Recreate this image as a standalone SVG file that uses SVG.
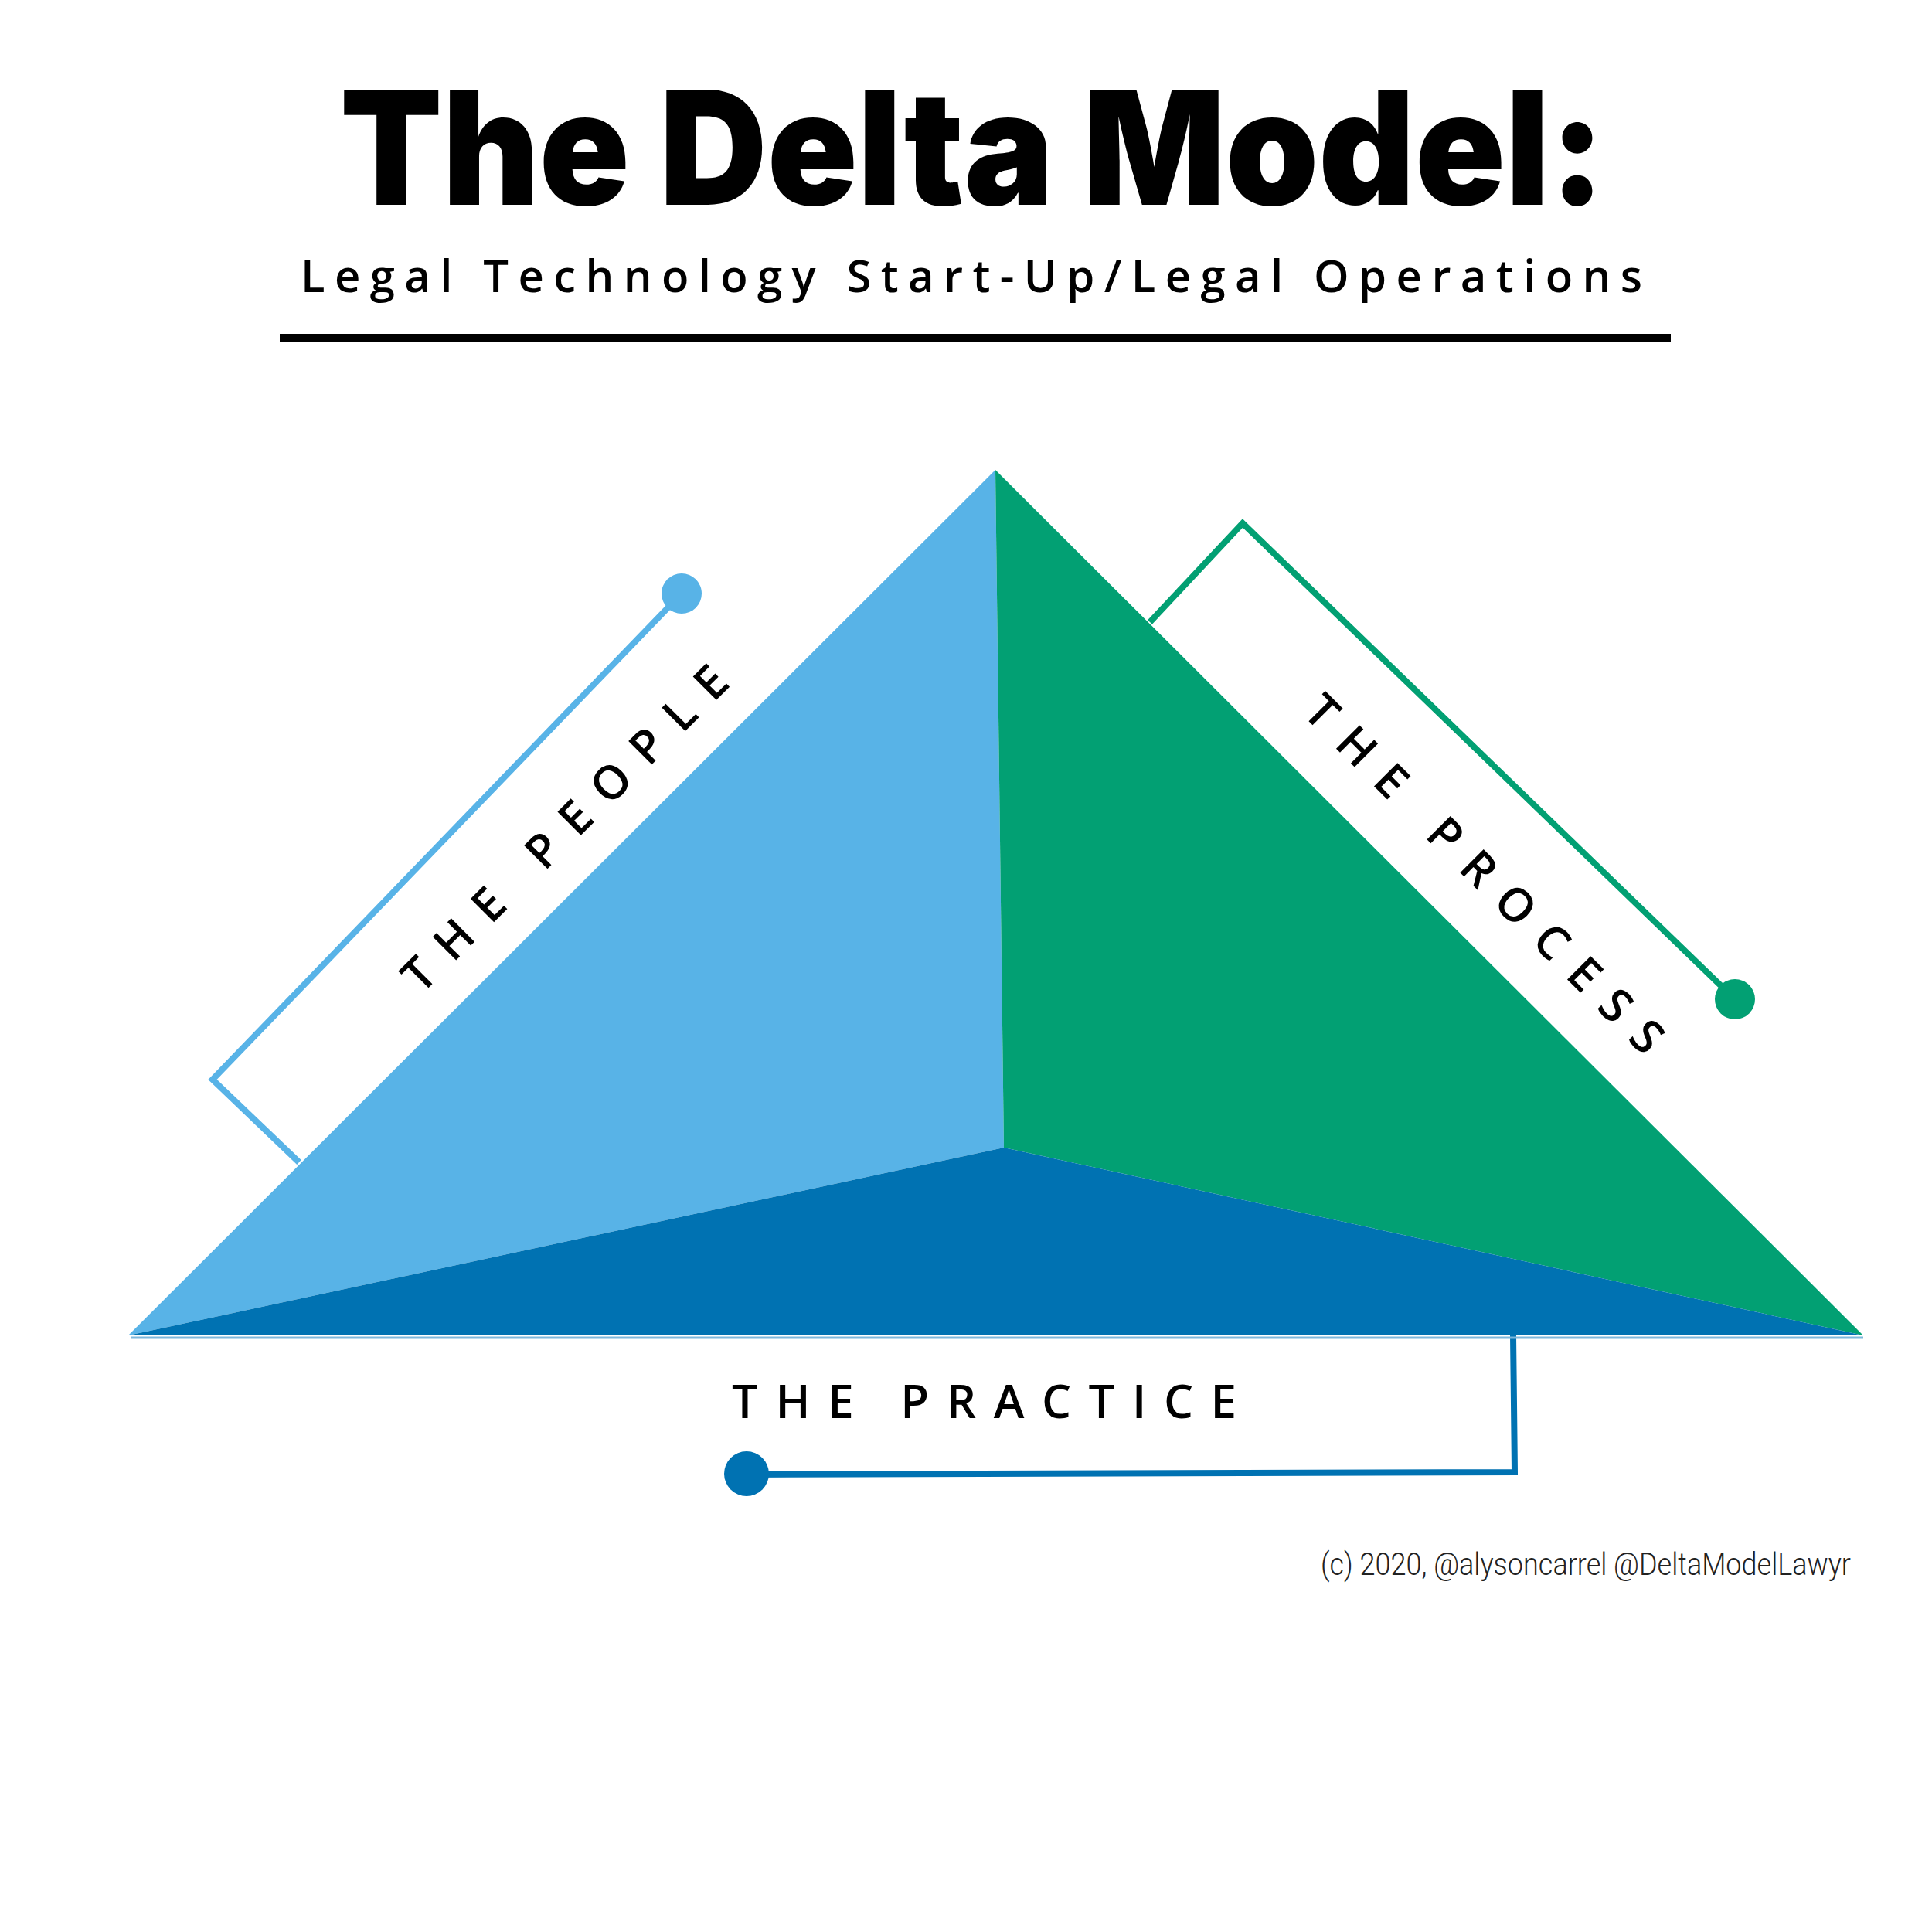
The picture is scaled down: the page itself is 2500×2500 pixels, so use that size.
<svg xmlns="http://www.w3.org/2000/svg" width="2500" height="2500" viewBox="0 0 2500 2500">
<style>
.title{font-family:Inter,"Liberation Sans",sans-serif;font-weight:900;fill:#000}
.sub{font-family:"Open Sans","Liberation Sans",sans-serif;font-weight:600;fill:#000}
.lbl{font-family:"Open Sans","Liberation Sans",sans-serif;font-weight:600;fill:#000;font-size:60px}
.copy{font-family:Roboto,"Liberation Sans",sans-serif;font-weight:300;fill:#222;font-size:40px}
.conn{fill:none;stroke-width:8;stroke-linejoin:miter}
</style>
<rect width="2500" height="2500" fill="#fff"/>
<g id="header">
<text class="title" x="440" y="265" font-size="205" textLength="1637" lengthAdjust="spacingAndGlyphs">The Delta Model:</text>
<text class="sub" x="389" y="378" font-size="58" textLength="1736" lengthAdjust="spacing">Legal Technology Start-Up/Legal Operations</text>
<rect x="362" y="432" width="1800" height="10" fill="#000"/>
</g>
<g id="connectors">
<polyline class="conn" stroke="#58B3E7" points="882,768 275,1397 387,1504"/>
<circle cx="882" cy="768" r="26" fill="#58B3E7"/>
<polyline class="conn" stroke="#02A073" points="1488,805 1608,677 2245,1293"/>
<circle cx="2245" cy="1293" r="26" fill="#02A073"/>
<polyline class="conn" stroke="#0072B2" stroke-width="10" points="1958,1728 1960,1905 966,1908"/>
<circle cx="966" cy="1907" r="29" fill="#0072B2"/>
</g>
<g id="delta">
<polygon points="1288,608 166,1728 1299,1485" fill="#58B3E7"/>
<polygon points="1288,608 1299,1485 2411,1728" fill="#02A073"/>
<polygon points="166,1728 1299,1485 2411,1728" fill="#0072B2"/>
<line x1="170" y1="1731" x2="2411" y2="1731" stroke="#7DB7DC" stroke-width="3"/>
</g>
<g id="people">
<text class="lbl" transform="translate(731,1072) rotate(-45)" x="0" y="21" text-anchor="middle" textLength="568" lengthAdjust="spacing">THE PEOPLE</text>
</g>
<g id="process">
<text class="lbl" transform="translate(1921,1131) rotate(45)" x="0" y="21" text-anchor="middle" textLength="628" lengthAdjust="spacing">THE PROCESS</text>
</g>
<g id="practice">
<text class="lbl" x="947" y="1835" textLength="653" lengthAdjust="spacing">THE PRACTICE</text>
</g>
<g id="footer">
<text class="copy" x="1709" y="2038" textLength="686" lengthAdjust="spacingAndGlyphs">(c) 2020, @alysoncarrel @DeltaModelLawyr</text>
</g>
</svg>
